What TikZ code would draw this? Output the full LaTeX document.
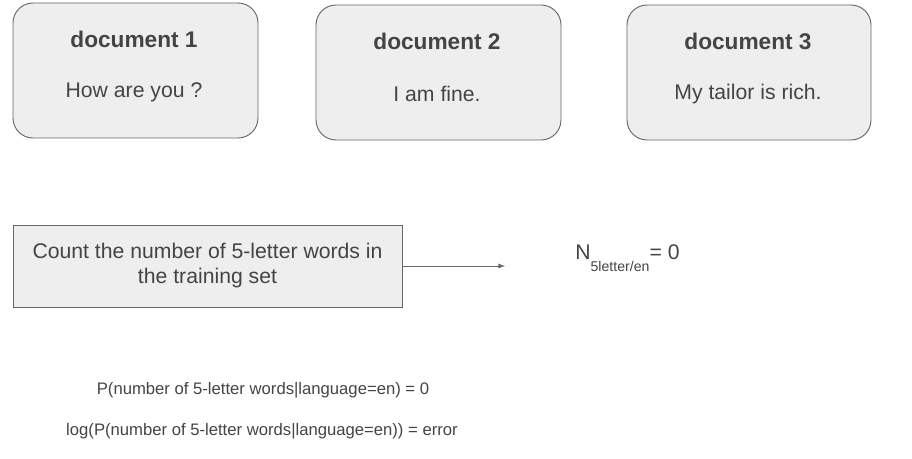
\documentclass[tikz,border=0pt]{standalone}
\usepackage{fontspec}
\setmainfont{Liberation Sans}
\definecolor{fillg}{HTML}{EEEEEE}
\definecolor{edge}{HTML}{666666}
\definecolor{txt}{HTML}{444444}
\begin{document}
\begin{tikzpicture}[x=0.75pt,y=-0.75pt,
  doc/.style={draw=edge,fill=fillg,rounded corners=15pt,line width=0.7pt},
  lbl/.style={text=txt,font=\fontsize{15.9pt}{19pt}\selectfont},
  ttl/.style={text=txt,font=\fontsize{17pt}{19pt}\selectfont\bfseries},
  small/.style={text=txt,font=\fontsize{12.5pt}{15pt}\selectfont}]
\useasboundingbox (0,0) rectangle (912,459);
\draw[doc] (13,3) rectangle (258,138);
\node[ttl] (t1) at (134,39) {document 1};
\node[lbl] (b1) at (134,92) {How are you ?};
\draw[doc] (316,5) rectangle (561,140);
\node[ttl] (t2) at (437,41) {document 2};
\node[lbl] (b2) at (437,94) {I am fine.};
\draw[doc] (627,5) rectangle (871,140);
\node[ttl] (t3) at (748,41) {document 3};
\node[lbl] (b3) at (748,94) {My tailor is rich.};
\node[draw=edge,fill=fillg,line width=0.7pt,minimum width=389*0.75pt,minimum height=82*0.75pt,align=center,lbl] (c) at (207.5,266) {\raisebox{-2.2pt}{\begin{tabular}{@{}c@{}}Count the number of 5-letter words in\\the training set\end{tabular}}};
\coordinate (e) at (505,266);
\draw[edge,line width=0.7pt,-latex] (c.east) -- (e);
\node[lbl,anchor=west,inner sep=0pt] (n) at (575,258) {N\raisebox{-1.1ex}{\fontsize{10.6pt}{12pt}\selectfont 5letter/en}= 0};
\node[small] (p1) at (263,390) {P(number of 5-letter words|language=en) = 0};
\node[small] (p2) at (262,431) {log(P(number of 5-letter words|language=en)) = error};
\end{tikzpicture}
\end{document}
